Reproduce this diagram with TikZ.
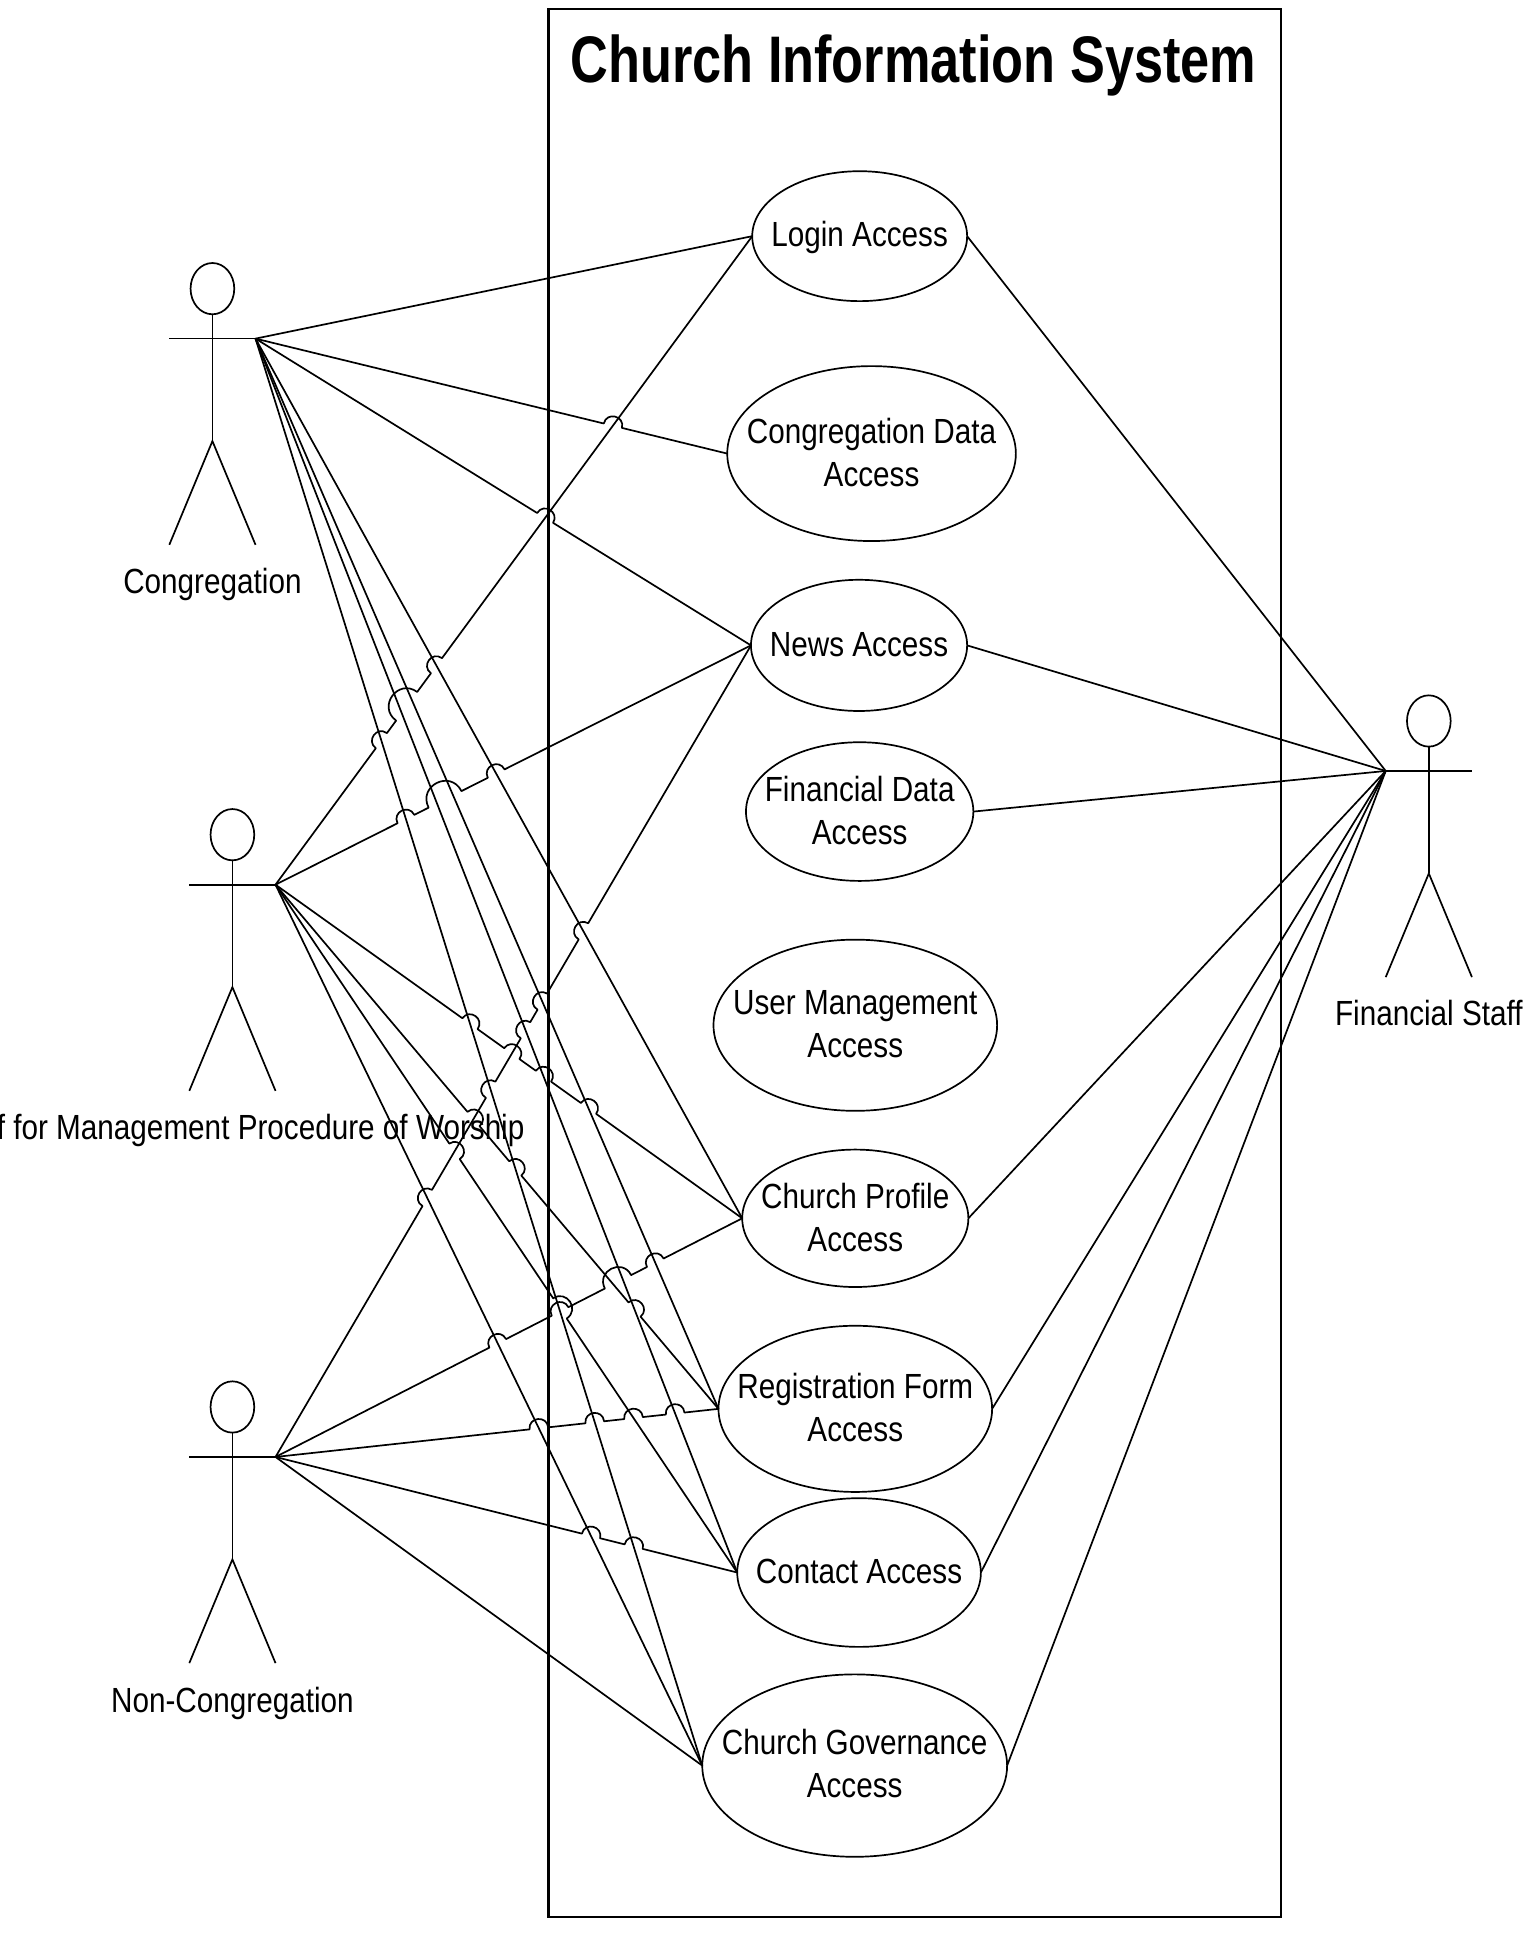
\documentclass[tikz,border=0pt]{standalone}
\usepackage{fontspec}
\usetikzlibrary{shapes.geometric}
\newfontfamily\labfont[FakeStretch=0.85]{Liberation Sans}
\newfontfamily\titlefont[FakeStretch=0.794]{Liberation Sans Bold}
\ExplSyntaxOn
\int_new:N \g_cj_n_int
\seq_new:N \l_cj_d_seq
\tl_new:N \l_cj_path_tl
\fp_new:N \l_cj_ax_fp \fp_new:N \l_cj_ay_fp \fp_new:N \l_cj_bx_fp \fp_new:N \l_cj_by_fp
\fp_new:N \l_cj_px_fp \fp_new:N \l_cj_py_fp \fp_new:N \l_cj_qx_fp \fp_new:N \l_cj_qy_fp
\fp_new:N \l_cj_len_fp \fp_new:N \l_cj_dx_fp \fp_new:N \l_cj_dy_fp \fp_new:N \l_cj_den_fp
\fp_new:N \l_cj_t_fp \fp_new:N \l_cj_u_fp \fp_new:N \l_cj_s_fp \fp_new:N \l_cj_e_fp \fp_new:N \l_cj_h_fp
\bool_new:N \l_cj_open_bool
\fp_const:Nn \c_cj_r_fp {7.5}
\cs_new_protected:Npn \cj_setpt:nnn #1#2#3
 {
  \cs_gset:cpx {pt@#1@x} {\fp_eval:n{#2}}
  \cs_gset:cpx {pt@#1@y} {\fp_eval:n{#3}}
 }
\cs_new_protected:Npn \cj_flush:
 {
  \fp_set:Nn \l_cj_h_fp { (\l_cj_e_fp-\l_cj_s_fp)*2/3 }
  \tl_put_right:Nx \l_cj_path_tl
   {
    ~--~(\fp_eval:n{round(\l_cj_ax_fp+\l_cj_s_fp*\l_cj_dx_fp,2)},\fp_eval:n{round(\l_cj_ay_fp+\l_cj_s_fp*\l_cj_dy_fp,2)})
    ~..~controls~(\fp_eval:n{round(\l_cj_ax_fp+\l_cj_s_fp*\l_cj_dx_fp+\l_cj_h_fp*\l_cj_dy_fp,2)},\fp_eval:n{round(\l_cj_ay_fp+\l_cj_s_fp*\l_cj_dy_fp-\l_cj_h_fp*\l_cj_dx_fp,2)})
    ~and~(\fp_eval:n{round(\l_cj_ax_fp+\l_cj_e_fp*\l_cj_dx_fp+\l_cj_h_fp*\l_cj_dy_fp,2)},\fp_eval:n{round(\l_cj_ay_fp+\l_cj_e_fp*\l_cj_dy_fp-\l_cj_h_fp*\l_cj_dx_fp,2)})
    ~..~(\fp_eval:n{round(\l_cj_ax_fp+\l_cj_e_fp*\l_cj_dx_fp,2)},\fp_eval:n{round(\l_cj_ay_fp+\l_cj_e_fp*\l_cj_dy_fp,2)})
   }
 }
\cs_new_protected:Npn \cj_conn:nn #1#2
 {
  \fp_set:Nn \l_cj_ax_fp {\use:c{pt@#1@x}}
  \fp_set:Nn \l_cj_ay_fp {\use:c{pt@#1@y}}
  \fp_set:Nn \l_cj_bx_fp {\use:c{pt@#2@x}}
  \fp_set:Nn \l_cj_by_fp {\use:c{pt@#2@y}}
  \fp_set:Nn \l_cj_len_fp {sqrt((\l_cj_bx_fp-\l_cj_ax_fp)^2+(\l_cj_by_fp-\l_cj_ay_fp)^2)}
  \fp_set:Nn \l_cj_dx_fp {(\l_cj_bx_fp-\l_cj_ax_fp)/\l_cj_len_fp}
  \fp_set:Nn \l_cj_dy_fp {(\l_cj_by_fp-\l_cj_ay_fp)/\l_cj_len_fp}
  \seq_clear:N \l_cj_d_seq
  \int_step_inline:nn {\g_cj_n_int}
   {
    \fp_set:Nn \l_cj_px_fp {\use:c{cj@ax@##1}}
    \fp_set:Nn \l_cj_py_fp {\use:c{cj@ay@##1}}
    \fp_set:Nn \l_cj_qx_fp {\use:c{cj@bx@##1}}
    \fp_set:Nn \l_cj_qy_fp {\use:c{cj@by@##1}}
    \fp_set:Nn \l_cj_den_fp {\l_cj_dx_fp*(\l_cj_qy_fp-\l_cj_py_fp)-\l_cj_dy_fp*(\l_cj_qx_fp-\l_cj_px_fp)}
    \fp_compare:nT {abs(\l_cj_den_fp)>0.000001}
     {
      \fp_set:Nn \l_cj_t_fp {((\l_cj_px_fp-\l_cj_ax_fp)*(\l_cj_qy_fp-\l_cj_py_fp)-(\l_cj_py_fp-\l_cj_ay_fp)*(\l_cj_qx_fp-\l_cj_px_fp))/\l_cj_den_fp}
      \fp_set:Nn \l_cj_u_fp {-((\l_cj_ax_fp-\l_cj_px_fp)*\l_cj_dy_fp-(\l_cj_ay_fp-\l_cj_py_fp)*\l_cj_dx_fp)/\l_cj_den_fp}
      \fp_compare:nT {\l_cj_t_fp>1 && \l_cj_t_fp<\l_cj_len_fp-1 && \l_cj_u_fp>0.003 && \l_cj_u_fp<0.997}
       { \seq_put_right:Nx \l_cj_d_seq {\fp_eval:n{\l_cj_t_fp}} }
     }
   }
  \seq_sort:Nn \l_cj_d_seq
   { \fp_compare:nNnTF {##1}>{##2} {\sort_return_swapped:} {\sort_return_same:} }
  \tl_set:Nn \l_cj_path_tl {\draw[conn]~(#1)}
  \bool_set_false:N \l_cj_open_bool
  \seq_map_inline:Nn \l_cj_d_seq
   {
    \bool_if:NTF \l_cj_open_bool
     {
      \fp_compare:nTF {##1-\c_cj_r_fp<=\l_cj_e_fp}
       { \fp_set:Nn \l_cj_e_fp {##1+\c_cj_r_fp} }
       {
        \cj_flush:
        \fp_set:Nn \l_cj_s_fp {##1-\c_cj_r_fp}
        \fp_set:Nn \l_cj_e_fp {##1+\c_cj_r_fp}
       }
     }
     {
      \bool_set_true:N \l_cj_open_bool
      \fp_set:Nn \l_cj_s_fp {##1-\c_cj_r_fp}
      \fp_set:Nn \l_cj_e_fp {##1+\c_cj_r_fp}
     }
   }
  \bool_if:NT \l_cj_open_bool {\cj_flush:}
  \tl_put_right:Nn \l_cj_path_tl {~--~(#2);}
  \tl_use:N \l_cj_path_tl
  \int_gincr:N \g_cj_n_int
  \cs_gset:cpx {cj@ax@\int_use:N\g_cj_n_int} {\fp_eval:n{\l_cj_ax_fp}}
  \cs_gset:cpx {cj@ay@\int_use:N\g_cj_n_int} {\fp_eval:n{\l_cj_ay_fp}}
  \cs_gset:cpx {cj@bx@\int_use:N\g_cj_n_int} {\fp_eval:n{\l_cj_bx_fp}}
  \cs_gset:cpx {cj@by@\int_use:N\g_cj_n_int} {\fp_eval:n{\l_cj_by_fp}}
 }
\NewDocumentCommand \setpt {mmm} {\cj_setpt:nnn{#1}{#2}{#3}}
\NewDocumentCommand \conn {mm} {\cj_conn:nn{#1}{#2}}
\ExplSyntaxOff
\tikzset{
  ln/.style={line width=0.85pt,black},
  conn/.style={ln,line join=round},
  uc/.style={ellipse,draw,ln,inner sep=0pt,outer sep=0pt},
  uctext/.style={inner sep=0pt,align=center,font=\labfont\fontsize{17.5}{21.6}\selectfont},
  actorhead/.style={ellipse,draw,ln,inner sep=0pt,outer sep=0pt,minimum width=21.9pt,minimum height=25.7pt},
  actorlabel/.style={inner sep=0pt,font=\labfont\fontsize{17.5}{21.9}\selectfont},
  systitle/.style={inner sep=0pt,font=\titlefont\fontsize{33}{38}\selectfont},
  sysbox/.style={draw,line width=1.1pt,black,inner sep=0pt}
}
% name, cx, cy, rx, ry, upward text shift (pt), text
\newcommand\usecase[7]{%
  \node[uc,minimum width=\fpeval{2*#4*0.626}pt,minimum height=\fpeval{2*#5*0.626}pt,
        label={[uctext,yshift=#6pt]center:{#7}}] (#1) at (#2,#3) {};
  \setpt{#1.west}{#2-#4}{#3}\setpt{#1.east}{#2+#4}{#3}}
\newcommand\actor[3]{%
  \node[actorhead] (#1-head) at (#2,#3-40) {};
  \coordinate (#1-l) at (#2-34.5,#3);
  \coordinate (#1-r) at (#2+34.5,#3);
  \coordinate (#1-hip) at (#2,#3+82);
  \coordinate (#1-fl) at (#2-34.5,#3+165);
  \coordinate (#1-fr) at (#2+34.5,#3+165);
  \draw[ln] (#1-l) -- (#1-r);
  \draw[ln] (#1-head.south) -- (#1-hip);
  \draw[ln] (#1-fl) -- (#1-hip) -- (#1-fr);
  \setpt{#1-l}{#2-34.5}{#3}\setpt{#1-r}{#2+34.5}{#3}}
\begin{document}
\begin{tikzpicture}[x=0.626pt,y=-0.626pt]
\useasboundingbox[fill=white] (0,0) rectangle (1224.4,1567.8);
\node[sysbox,minimum width=\fpeval{586*0.626}pt,minimum height=\fpeval{1527*0.626}pt] (system) at (732,770.5) {};
\node[systitle] (title) at (731,52) {Church Information System};
\usecase{login}{688}{189}{86}{52}{-0.7}{Login Access}
\usecase{data}{697.5}{363}{115.5}{70}{0.6}{Congregation Data\\Access}
\usecase{news}{687.5}{516.5}{86.5}{52.5}{0.4}{News Access}
\usecase{fin}{688}{649.5}{91}{55.5}{0.6}{Financial Data\\Access}
\usecase{user}{684.5}{820.5}{113.5}{68.5}{0.6}{User Management\\Access}
\usecase{profile}{684.5}{975}{90.5}{55}{0.6}{Church Profile\\Access}
\usecase{reg}{684.5}{1127.5}{109.5}{66.5}{0.6}{Registration Form\\Access}
\usecase{contact}{687.5}{1258.5}{97.5}{59.5}{0.6}{Contact Access}
\usecase{gov}{684}{1413}{122}{73}{1.0}{Church Governance\\Access}
\actor{cong}{170}{271}
\actor{staff}{186}{708}
\actor{non}{186}{1166}
\actor{finstaff}{1143.5}{617}
\node[actorlabel] (cong-label) at (170,468) {Congregation};
\node[actorlabel,anchor=east] (staff-label) at (420,905) {f for Management Procedure of Worship};
\node[actorlabel] (non-label) at (186,1363) {Non-Congregation};
\node[actorlabel] (finstaff-label) at (1143.5,811) {Financial Staff};
% drawing order decides which line jumps over which
\conn{cong-r}{profile.west}
\conn{cong-r}{reg.west}
\conn{cong-r}{contact.west}
\conn{cong-r}{gov.west}
\conn{staff-r}{login.west}
\conn{staff-r}{news.west}
\conn{cong-r}{login.west}
\conn{cong-r}{data.west}
\conn{cong-r}{news.west}
\conn{staff-r}{gov.west}
\conn{non-r}{news.west}
\conn{staff-r}{reg.west}
\conn{staff-r}{profile.west}
\conn{non-r}{profile.west}
\conn{staff-r}{contact.west}
\conn{non-r}{gov.west}
\conn{non-r}{contact.west}
\conn{non-r}{reg.west}
\conn{finstaff-l}{login.east}
\conn{finstaff-l}{news.east}
\conn{finstaff-l}{fin.east}
\conn{finstaff-l}{profile.east}
\conn{finstaff-l}{reg.east}
\conn{finstaff-l}{contact.east}
\conn{finstaff-l}{gov.east}
\end{tikzpicture}
\end{document}
